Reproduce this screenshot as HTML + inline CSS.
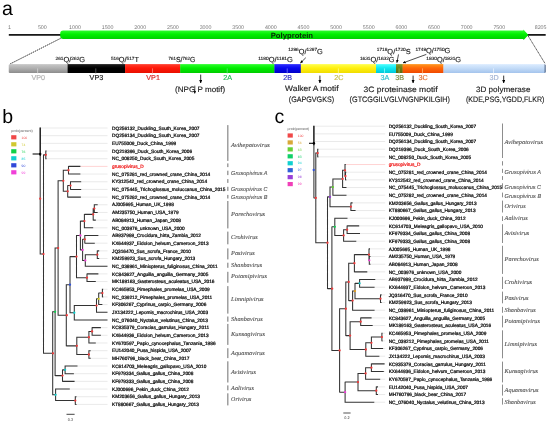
<!DOCTYPE html>
<html><head><meta charset="utf-8"><title>Figure</title>
<style>html,body{margin:0;padding:0;background:#fff}svg{display:block}</style>
</head><body>
<svg width="550" height="424" viewBox="0 0 550 424" text-rendering="geometricPrecision">
<rect width="550" height="424" fill="#fff"/>
<defs>
<linearGradient id="gG" x1="0" y1="0" x2="0" y2="1"><stop offset="0" stop-color="#3dff3d"/><stop offset="0.45" stop-color="#00f000"/><stop offset="1" stop-color="#00c800"/></linearGradient>
<linearGradient id="gVP0" x1="0" y1="0" x2="0" y2="1"><stop offset="0" stop-color="#c8c8c8"/><stop offset="0.45" stop-color="#b0b0b0"/><stop offset="1" stop-color="#8c8c8c"/></linearGradient>
<linearGradient id="gVP3" x1="0" y1="0" x2="0" y2="1"><stop offset="0" stop-color="#202020"/><stop offset="0.45" stop-color="#000000"/><stop offset="1" stop-color="#000000"/></linearGradient>
<linearGradient id="gVP1" x1="0" y1="0" x2="0" y2="1"><stop offset="0" stop-color="#ff4030"/><stop offset="0.45" stop-color="#ff1808"/><stop offset="1" stop-color="#e81000"/></linearGradient>
<linearGradient id="g2A" x1="0" y1="0" x2="0" y2="1"><stop offset="0" stop-color="#30ff30"/><stop offset="0.45" stop-color="#00ee00"/><stop offset="1" stop-color="#00cc00"/></linearGradient>
<linearGradient id="g2B" x1="0" y1="0" x2="0" y2="1"><stop offset="0" stop-color="#3030ff"/><stop offset="0.45" stop-color="#0808f0"/><stop offset="1" stop-color="#0000c8"/></linearGradient>
<linearGradient id="g2C" x1="0" y1="0" x2="0" y2="1"><stop offset="0" stop-color="#ffff50"/><stop offset="0.45" stop-color="#fff010"/><stop offset="1" stop-color="#f0dc00"/></linearGradient>
<linearGradient id="g3A" x1="0" y1="0" x2="0" y2="1"><stop offset="0" stop-color="#50ffff"/><stop offset="0.45" stop-color="#10e8f0"/><stop offset="1" stop-color="#00c8d8"/></linearGradient>
<linearGradient id="g3B" x1="0" y1="0" x2="0" y2="1"><stop offset="0" stop-color="#8a9a30"/><stop offset="0.45" stop-color="#6a8018"/><stop offset="1" stop-color="#586c10"/></linearGradient>
<linearGradient id="g3C" x1="0" y1="0" x2="0" y2="1"><stop offset="0" stop-color="#ff9820"/><stop offset="0.45" stop-color="#ff6808"/><stop offset="1" stop-color="#f04800"/></linearGradient>
<linearGradient id="g3D" x1="0" y1="0" x2="0" y2="1"><stop offset="0" stop-color="#dcecff"/><stop offset="0.45" stop-color="#c4dcf8"/><stop offset="1" stop-color="#a4c4ec"/></linearGradient>
<marker id="ah" viewBox="0 0 10 10" refX="9" refY="5" markerWidth="4.2" markerHeight="4.2" orient="auto-start-reverse"><path d="M0,0.5 L10,5 L0,9.5 z" fill="#000"/></marker>
</defs>
<text x="2.00" y="14.80" font-size="19.5" fill="#000" font-family='"Liberation Sans", sans-serif' >a</text>
<text x="2.20" y="123.20" font-size="19.5" fill="#000" font-family='"Liberation Sans", sans-serif' >b</text>
<text x="274.50" y="123.00" font-size="19.5" fill="#000" font-family='"Liberation Sans", sans-serif' >c</text>
<text x="9.60" y="28.90" font-size="5.3" fill="#777" text-anchor="middle" font-family='"Liberation Sans", sans-serif' >1</text>
<text x="42.34" y="28.90" font-size="5.3" fill="#777" text-anchor="middle" font-family='"Liberation Sans", sans-serif' >500</text>
<text x="74.98" y="28.90" font-size="5.3" fill="#777" text-anchor="middle" font-family='"Liberation Sans", sans-serif' >1000</text>
<text x="107.62" y="28.90" font-size="5.3" fill="#777" text-anchor="middle" font-family='"Liberation Sans", sans-serif' >1500</text>
<text x="140.26" y="28.90" font-size="5.3" fill="#777" text-anchor="middle" font-family='"Liberation Sans", sans-serif' >2000</text>
<text x="172.90" y="28.90" font-size="5.3" fill="#777" text-anchor="middle" font-family='"Liberation Sans", sans-serif' >2500</text>
<text x="205.54" y="28.90" font-size="5.3" fill="#777" text-anchor="middle" font-family='"Liberation Sans", sans-serif' >3000</text>
<text x="238.18" y="28.90" font-size="5.3" fill="#777" text-anchor="middle" font-family='"Liberation Sans", sans-serif' >3500</text>
<text x="270.82" y="28.90" font-size="5.3" fill="#777" text-anchor="middle" font-family='"Liberation Sans", sans-serif' >4000</text>
<text x="303.46" y="28.90" font-size="5.3" fill="#777" text-anchor="middle" font-family='"Liberation Sans", sans-serif' >4500</text>
<text x="336.10" y="28.90" font-size="5.3" fill="#777" text-anchor="middle" font-family='"Liberation Sans", sans-serif' >5000</text>
<text x="368.74" y="28.90" font-size="5.3" fill="#777" text-anchor="middle" font-family='"Liberation Sans", sans-serif' >5500</text>
<text x="401.38" y="28.90" font-size="5.3" fill="#777" text-anchor="middle" font-family='"Liberation Sans", sans-serif' >6000</text>
<text x="434.02" y="28.90" font-size="5.3" fill="#777" text-anchor="middle" font-family='"Liberation Sans", sans-serif' >6500</text>
<text x="466.66" y="28.90" font-size="5.3" fill="#777" text-anchor="middle" font-family='"Liberation Sans", sans-serif' >7000</text>
<text x="499.30" y="28.90" font-size="5.3" fill="#777" text-anchor="middle" font-family='"Liberation Sans", sans-serif' >7500</text>
<text x="540.60" y="28.90" font-size="5.3" fill="#777" text-anchor="middle" font-family='"Liberation Sans", sans-serif' >8205</text>
<rect x="8.8" y="34.1" width="53" height="1.6" fill="#000"/>
<rect x="526" y="34.1" width="19.7" height="1.6" fill="#000"/>
<path d="M63.2,30.5 H523.4 V29.4 L528.4,34.9 L523.4,40.2 V39.1 H63.2 Q60.2,39.1 60.2,36.1 V33.5 Q60.2,30.5 63.2,30.5 z" fill="url(#gG)"/>
<text x="270.70" y="37.60" font-size="7.6" fill="#062806" font-weight="bold" textLength="42.40" lengthAdjust="spacingAndGlyphs" font-family='"Liberation Sans", sans-serif' >Polyprotein</text>
<line x1="60.7" y1="38.3" x2="10.2" y2="63.9" stroke="#111" stroke-width="0.85" stroke-dasharray="1.5,0.8"/>
<line x1="528.2" y1="36" x2="544.9" y2="63.3" stroke="#111" stroke-width="0.7" stroke-dasharray="1.3,0.4"/>
<clipPath id="barclip"><rect x="8.5" y="64.1" width="537.2" height="8.9" rx="1.5" ry="1.5"/></clipPath>
<g clip-path="url(#barclip)">
<rect x="8.5" y="64.1" width="59.40" height="8.9" fill="url(#gVP0)"/>
<rect x="67.6" y="64.1" width="57.80" height="8.9" fill="url(#gVP3)"/>
<rect x="125.1" y="64.1" width="55.40" height="8.9" fill="url(#gVP1)"/>
<rect x="180.2" y="64.1" width="94.50" height="8.9" fill="url(#g2A)"/>
<rect x="274.4" y="64.1" width="26.70" height="8.9" fill="url(#g2B)"/>
<rect x="300.8" y="64.1" width="75.50" height="8.9" fill="url(#g2C)"/>
<rect x="376" y="64.1" width="20.30" height="8.9" fill="url(#g3A)"/>
<rect x="396" y="64.1" width="6.90" height="8.9" fill="url(#g3B)"/>
<rect x="402.6" y="64.1" width="41.10" height="8.9" fill="url(#g3C)"/>
<rect x="443.4" y="64.1" width="102.60" height="8.9" fill="url(#g3D)"/>
<rect x="544.7" y="64.1" width="1" height="8.9" fill="#26385a"/>
</g>
<rect x="37.40" y="68.4" width="0.7" height="5.2" fill="#dddddd"/>
<text x="38.30" y="79.90" font-size="7.2" fill="#b4b4b4" text-anchor="middle" font-family='"Liberation Sans", sans-serif' stroke="#b4b4b4" stroke-width="0.18">VP0</text>
<rect x="95.50" y="68.4" width="0.7" height="5.2" fill="#777"/>
<text x="96.40" y="79.90" font-size="7.2" fill="#222" text-anchor="middle" font-family='"Liberation Sans", sans-serif' stroke="#222" stroke-width="0.18">VP3</text>
<rect x="152.20" y="68.4" width="0.7" height="5.2" fill="#ff9a90"/>
<text x="153.10" y="79.90" font-size="7.2" fill="#dc2a2a" text-anchor="middle" font-family='"Liberation Sans", sans-serif' stroke="#dc2a2a" stroke-width="0.18">VP1</text>
<rect x="226.80" y="68.4" width="0.7" height="5.2" fill="#60e890"/>
<text x="227.70" y="79.90" font-size="7.2" fill="#22bb55" text-anchor="middle" font-family='"Liberation Sans", sans-serif' stroke="#22bb55" stroke-width="0.18">2A</text>
<rect x="286.80" y="68.4" width="0.7" height="5.2" fill="#8a8aff"/>
<text x="287.70" y="79.90" font-size="7.2" fill="#3434c4" text-anchor="middle" font-family='"Liberation Sans", sans-serif' stroke="#3434c4" stroke-width="0.18">2B</text>
<rect x="337.90" y="68.4" width="0.7" height="5.2" fill="#ffffa0"/>
<text x="338.80" y="79.90" font-size="7.2" fill="#c4bc40" text-anchor="middle" font-family='"Liberation Sans", sans-serif' stroke="#c4bc40" stroke-width="0.18">2C</text>
<rect x="384.10" y="68.4" width="0.7" height="5.2" fill="#a0ffff"/>
<text x="385.00" y="79.90" font-size="7.2" fill="#30c0d0" text-anchor="middle" font-family='"Liberation Sans", sans-serif' stroke="#30c0d0" stroke-width="0.18">3A</text>
<rect x="398.70" y="68.4" width="0.7" height="5.2" fill="#b0c060"/>
<text x="399.60" y="79.90" font-size="7.2" fill="#808a40" text-anchor="middle" font-family='"Liberation Sans", sans-serif' stroke="#808a40" stroke-width="0.18">3B</text>
<rect x="422.20" y="68.4" width="0.7" height="5.2" fill="#ffc080"/>
<text x="423.10" y="79.90" font-size="7.2" fill="#e07030" text-anchor="middle" font-family='"Liberation Sans", sans-serif' stroke="#e07030" stroke-width="0.18">3C</text>
<rect x="493.30" y="68.4" width="0.7" height="5.2" fill="#f0f6ff"/>
<text x="494.20" y="79.90" font-size="7.2" fill="#a4b4d4" text-anchor="middle" font-family='"Liberation Sans", sans-serif' stroke="#a4b4d4" stroke-width="0.18">3D</text>
<text x="55.50" y="62.20" fill="#111" stroke="#111" stroke-width="0.12" textLength="29.60" lengthAdjust="spacingAndGlyphs" font-family='"Liberation Sans", sans-serif'><tspan font-size="4.7" dy="-2.6">261</tspan><tspan font-size="7.3" dy="2.6">Q/</tspan><tspan font-size="4.7" dy="-2.6">262</tspan><tspan font-size="7.3" dy="2.6">G</tspan></text>
<text x="110.90" y="62.20" fill="#111" stroke="#111" stroke-width="0.12" textLength="28.10" lengthAdjust="spacingAndGlyphs" font-family='"Liberation Sans", sans-serif'><tspan font-size="4.7" dy="-2.6">516</tspan><tspan font-size="7.3" dy="2.6">Q/</tspan><tspan font-size="4.7" dy="-2.6">517</tspan><tspan font-size="7.3" dy="2.6">T</tspan></text>
<text x="168.50" y="62.20" fill="#111" stroke="#111" stroke-width="0.12" textLength="26.80" lengthAdjust="spacingAndGlyphs" font-family='"Liberation Sans", sans-serif'><tspan font-size="4.7" dy="-2.6">761</tspan><tspan font-size="7.3" dy="2.6">S/</tspan><tspan font-size="4.7" dy="-2.6">762</tspan><tspan font-size="7.3" dy="2.6">G</tspan></text>
<text x="258.30" y="62.20" fill="#111" stroke="#111" stroke-width="0.12" textLength="34.60" lengthAdjust="spacingAndGlyphs" font-family='"Liberation Sans", sans-serif'><tspan font-size="4.7" dy="-2.6">1180</tspan><tspan font-size="7.3" dy="2.6">Q/</tspan><tspan font-size="4.7" dy="-2.6">1181</tspan><tspan font-size="7.3" dy="2.6">G</tspan></text>
<text x="288.20" y="53.60" fill="#111" stroke="#111" stroke-width="0.12" textLength="34.70" lengthAdjust="spacingAndGlyphs" font-family='"Liberation Sans", sans-serif'><tspan font-size="4.7" dy="-2.6">1296</tspan><tspan font-size="7.3" dy="2.6">Q/</tspan><tspan font-size="4.7" dy="-2.6">1297</tspan><tspan font-size="7.3" dy="2.6">G</tspan></text>
<text x="359.90" y="62.20" fill="#111" stroke="#111" stroke-width="0.12" textLength="34.70" lengthAdjust="spacingAndGlyphs" font-family='"Liberation Sans", sans-serif'><tspan font-size="4.7" dy="-2.6">1631</tspan><tspan font-size="7.3" dy="2.6">Q/</tspan><tspan font-size="4.7" dy="-2.6">1632</tspan><tspan font-size="7.3" dy="2.6">G</tspan></text>
<text x="376.80" y="53.60" fill="#111" stroke="#111" stroke-width="0.12" textLength="33.90" lengthAdjust="spacingAndGlyphs" font-family='"Liberation Sans", sans-serif'><tspan font-size="4.7" dy="-2.6">1719</tspan><tspan font-size="7.3" dy="2.6">Q/</tspan><tspan font-size="4.7" dy="-2.6">1720</tspan><tspan font-size="7.3" dy="2.6">S</tspan></text>
<text x="415.40" y="53.20" fill="#111" stroke="#111" stroke-width="0.12" textLength="35.00" lengthAdjust="spacingAndGlyphs" font-family='"Liberation Sans", sans-serif'><tspan font-size="4.7" dy="-2.6">1749</tspan><tspan font-size="7.3" dy="2.6">Q/</tspan><tspan font-size="4.7" dy="-2.6">1750</tspan><tspan font-size="7.3" dy="2.6">G</tspan></text>
<text x="426.30" y="62.20" fill="#111" stroke="#111" stroke-width="0.12" textLength="34.80" lengthAdjust="spacingAndGlyphs" font-family='"Liberation Sans", sans-serif'><tspan font-size="4.7" dy="-2.6">1930</tspan><tspan font-size="7.3" dy="2.6">Q/</tspan><tspan font-size="4.7" dy="-2.6">1931</tspan><tspan font-size="7.3" dy="2.6">G</tspan></text>
<line x1="305.8" y1="57.7" x2="300.4" y2="63.0" stroke="#000" stroke-width="0.7" marker-end="url(#ah)"/>
<line x1="398.5" y1="54.4" x2="396.9" y2="62.6" stroke="#000" stroke-width="0.7" marker-end="url(#ah)"/>
<line x1="426.3" y1="54.4" x2="403.1" y2="62.9" stroke="#000" stroke-width="0.7" marker-end="url(#ah)"/>
<line x1="200.7" y1="74.6" x2="200.7" y2="83.0" stroke="#000" stroke-width="0.8" marker-end="url(#ah)"/>
<line x1="319.9" y1="75.6" x2="319.9" y2="83.0" stroke="#000" stroke-width="0.8" marker-end="url(#ah)"/>
<line x1="413.1" y1="75.6" x2="413.1" y2="83.0" stroke="#000" stroke-width="0.8" marker-end="url(#ah)"/>
<line x1="503.7" y1="75.6" x2="503.7" y2="83.0" stroke="#000" stroke-width="0.8" marker-end="url(#ah)"/>
<line x1="194.8" y1="85.6" x2="194.8" y2="93.4" stroke="#000" stroke-width="0.7" marker-end="url(#ah)"/>
<text x="175.10" y="92.20" font-size="7.8" fill="#222" textLength="50.00" lengthAdjust="spacingAndGlyphs" font-family='"Liberation Sans", sans-serif' stroke="#222" stroke-width="0.14">(NPG P motif)</text>
<text x="285.10" y="91.30" font-size="7.8" fill="#222" textLength="53.40" lengthAdjust="spacingAndGlyphs" font-family='"Liberation Sans", sans-serif' stroke="#222" stroke-width="0.14">Walker A motif</text>
<text x="288.80" y="102.10" font-size="7.8" fill="#222" textLength="45.30" lengthAdjust="spacingAndGlyphs" font-family='"Liberation Sans", sans-serif' stroke="#222" stroke-width="0.14">(GAPGVGKS)</text>
<text x="363.60" y="92.00" font-size="7.8" fill="#222" textLength="74.00" lengthAdjust="spacingAndGlyphs" font-family='"Liberation Sans", sans-serif' stroke="#222" stroke-width="0.14">3C  proteinase motif</text>
<text x="349.60" y="101.90" font-size="7.8" fill="#222" textLength="100.40" lengthAdjust="spacingAndGlyphs" font-family='"Liberation Sans", sans-serif' stroke="#222" stroke-width="0.14">(GTCGGILVGLVNGNPKILGIH)</text>
<text x="476.00" y="92.00" font-size="7.8" fill="#222" textLength="54.40" lengthAdjust="spacingAndGlyphs" font-family='"Liberation Sans", sans-serif' stroke="#222" stroke-width="0.14">3D polymerase</text>
<text x="466.00" y="101.90" font-size="7.8" fill="#222" textLength="78.40" lengthAdjust="spacingAndGlyphs" font-family='"Liberation Sans", sans-serif' stroke="#222" stroke-width="0.14">(KDE,PSG,YGDD,FLKR)</text>
<g stroke-width="0.5" fill="none">
<line x1="46.6" y1="151.03" x2="107.5" y2="151.03" stroke="#d4d4d4"/>
<line x1="46.6" y1="158.71" x2="107.5" y2="158.71" stroke="#d4d4d4"/>
<line x1="80.4" y1="166.39" x2="107.5" y2="166.39" stroke="#ffa8a8"/>
<line x1="80.4" y1="174.07" x2="107.5" y2="174.07" stroke="#d4d4d4"/>
<line x1="81.2" y1="181.75" x2="107.5" y2="181.75" stroke="#d4d4d4"/>
<line x1="81.2" y1="189.42" x2="107.5" y2="189.42" stroke="#d4d4d4"/>
<line x1="80.9" y1="197.10" x2="107.5" y2="197.10" stroke="#d4d4d4"/>
<line x1="97.7" y1="204.78" x2="107.5" y2="204.78" stroke="#d4d4d4"/>
<line x1="97.7" y1="212.46" x2="107.5" y2="212.46" stroke="#d4d4d4"/>
<line x1="95.8" y1="220.14" x2="107.5" y2="220.14" stroke="#d4d4d4"/>
<line x1="93.2" y1="227.81" x2="107.5" y2="227.81" stroke="#d4d4d4"/>
<line x1="98.4" y1="235.49" x2="107.5" y2="235.49" stroke="#d4d4d4"/>
<line x1="94.8" y1="243.17" x2="107.5" y2="243.17" stroke="#d4d4d4"/>
<line x1="99.2" y1="250.85" x2="107.5" y2="250.85" stroke="#d4d4d4"/>
<line x1="99.2" y1="258.53" x2="107.5" y2="258.53" stroke="#d4d4d4"/>
<line x1="98.4" y1="273.88" x2="107.5" y2="273.88" stroke="#d4d4d4"/>
<line x1="95.8" y1="281.56" x2="107.5" y2="281.56" stroke="#d4d4d4"/>
<line x1="103.2" y1="289.24" x2="107.5" y2="289.24" stroke="#d4d4d4"/>
<line x1="103.2" y1="296.92" x2="107.5" y2="296.92" stroke="#d4d4d4"/>
<line x1="102.4" y1="304.59" x2="107.5" y2="304.59" stroke="#d4d4d4"/>
<line x1="100.9" y1="327.63" x2="107.5" y2="327.63" stroke="#d4d4d4"/>
<line x1="100.9" y1="335.31" x2="107.5" y2="335.31" stroke="#d4d4d4"/>
<line x1="95.8" y1="342.98" x2="107.5" y2="342.98" stroke="#d4d4d4"/>
<line x1="90.7" y1="350.66" x2="107.5" y2="350.66" stroke="#d4d4d4"/>
<line x1="90.7" y1="358.34" x2="107.5" y2="358.34" stroke="#d4d4d4"/>
<line x1="77.5" y1="366.02" x2="107.5" y2="366.02" stroke="#d4d4d4"/>
<line x1="73.9" y1="373.70" x2="107.5" y2="373.70" stroke="#d4d4d4"/>
<line x1="74.6" y1="381.37" x2="107.5" y2="381.37" stroke="#d4d4d4"/>
<line x1="69.8" y1="389.05" x2="107.5" y2="389.05" stroke="#d4d4d4"/>
<line x1="76.5" y1="396.73" x2="107.5" y2="396.73" stroke="#d4d4d4"/>
<line x1="76.5" y1="404.41" x2="107.5" y2="404.41" stroke="#d4d4d4"/>
<line x1="41.0" y1="128.00" x2="107.5" y2="128.00" stroke="#d4d4d4"/>
<line x1="41.0" y1="135.68" x2="107.5" y2="135.68" stroke="#d4d4d4"/>
<line x1="41.0" y1="143.36" x2="107.5" y2="143.36" stroke="#d4d4d4"/>
<line x1="318.4" y1="149.20" x2="385.2" y2="149.20" stroke="#d4d4d4"/>
<line x1="318.4" y1="156.87" x2="385.2" y2="156.87" stroke="#d4d4d4"/>
<line x1="345.8" y1="164.53" x2="385.2" y2="164.53" stroke="#ffa8a8"/>
<line x1="346.3" y1="172.20" x2="385.2" y2="172.20" stroke="#d4d4d4"/>
<line x1="346.3" y1="179.87" x2="385.2" y2="179.87" stroke="#d4d4d4"/>
<line x1="346.5" y1="187.54" x2="385.2" y2="187.54" stroke="#d4d4d4"/>
<line x1="346.5" y1="195.20" x2="385.2" y2="195.20" stroke="#d4d4d4"/>
<line x1="352.6" y1="202.87" x2="385.2" y2="202.87" stroke="#d4d4d4"/>
<line x1="355.6" y1="210.54" x2="385.2" y2="210.54" stroke="#d4d4d4"/>
<line x1="347.5" y1="218.20" x2="385.2" y2="218.20" stroke="#d4d4d4"/>
<line x1="359.2" y1="225.87" x2="385.2" y2="225.87" stroke="#d4d4d4"/>
<line x1="360.0" y1="233.54" x2="385.2" y2="233.54" stroke="#d4d4d4"/>
<line x1="356.3" y1="241.20" x2="385.2" y2="241.20" stroke="#d4d4d4"/>
<line x1="370.0" y1="248.87" x2="385.2" y2="248.87" stroke="#d4d4d4"/>
<line x1="370.5" y1="256.54" x2="385.2" y2="256.54" stroke="#d4d4d4"/>
<line x1="370.5" y1="264.21" x2="385.2" y2="264.21" stroke="#d4d4d4"/>
<line x1="367.3" y1="271.87" x2="385.2" y2="271.87" stroke="#d4d4d4"/>
<line x1="375.3" y1="279.54" x2="385.2" y2="279.54" stroke="#d4d4d4"/>
<line x1="374.6" y1="287.21" x2="385.2" y2="287.21" stroke="#d4d4d4"/>
<line x1="381.6" y1="294.87" x2="385.2" y2="294.87" stroke="#d4d4d4"/>
<line x1="381.6" y1="302.54" x2="385.2" y2="302.54" stroke="#d4d4d4"/>
<line x1="374.6" y1="310.21" x2="385.2" y2="310.21" stroke="#d4d4d4"/>
<line x1="371.6" y1="317.88" x2="385.2" y2="317.88" stroke="#d4d4d4"/>
<line x1="372.7" y1="325.54" x2="385.2" y2="325.54" stroke="#d4d4d4"/>
<line x1="382.6" y1="333.21" x2="385.2" y2="333.21" stroke="#d4d4d4"/>
<line x1="382.6" y1="340.88" x2="385.2" y2="340.88" stroke="#d4d4d4"/>
<line x1="383.1" y1="348.54" x2="385.2" y2="348.54" stroke="#d4d4d4"/>
<line x1="379.4" y1="356.21" x2="385.2" y2="356.21" stroke="#d4d4d4"/>
<line x1="384.6" y1="363.88" x2="385.2" y2="363.88" stroke="#d4d4d4"/>
<line x1="383.8" y1="371.54" x2="385.2" y2="371.54" stroke="#d4d4d4"/>
<line x1="380.2" y1="379.21" x2="385.2" y2="379.21" stroke="#d4d4d4"/>
<line x1="378.0" y1="386.88" x2="385.2" y2="386.88" stroke="#d4d4d4"/>
<line x1="378.0" y1="394.54" x2="385.2" y2="394.54" stroke="#d4d4d4"/>
<line x1="374.3" y1="402.21" x2="385.2" y2="402.21" stroke="#d4d4d4"/>
<line x1="314.7" y1="126.20" x2="385.2" y2="126.20" stroke="#d4d4d4"/>
<line x1="314.7" y1="133.87" x2="385.2" y2="133.87" stroke="#d4d4d4"/>
<line x1="314.7" y1="141.53" x2="385.2" y2="141.53" stroke="#d4d4d4"/>
</g>
<path d="M45.8,150.58V159.16M68.5,165.94V174.52M70.5,181.30V189.87M67.7,185.14V197.55M63.3,169.78V191.79M94.3,204.33V212.91M93.2,208.17V220.59M84.4,213.93V228.26M84.8,235.04V243.62M97.3,250.40V258.98M85.3,254.24V266.65M82.6,238.88V260.90M80.4,220.65V250.34M87.0,273.43V282.01M76.5,235.04V278.17M102.4,288.79V297.37M98.7,292.63V305.04M96.5,298.39V312.72M74.3,305.10V320.40M70.0,256.16V313.20M92.1,327.18V335.76M88.9,331.02V343.43M88.9,350.21V358.79M76.8,336.78V354.95M66.3,284.23V346.31M58.1,180.34V315.72M65.1,365.57V374.15M62.5,369.41V381.82M55.1,247.58V376.07M75.3,396.28V404.86M55.6,388.60V401.02M52.7,311.37V395.26M43.5,154.42V353.77M40.2,127.55V254.54M317.7,148.75V157.32M345.5,171.75V180.32M345.0,164.09V176.49M342.6,169.84V187.99M332.9,178.46V195.65M350.9,202.42V210.99M330.0,186.61V207.15M347.1,225.42V233.99M343.6,229.25V241.65M334.8,217.75V235.90M369.3,256.09V264.66M369.0,248.42V260.82M354.4,254.17V272.32M359.6,279.09V287.66M380.5,294.42V302.99M355.0,282.92V299.16M352.6,290.59V310.66M348.7,262.80V301.07M360.7,317.43V325.99M381.9,332.76V341.33M371.4,336.59V348.99M365.8,342.34V356.66M350.1,321.26V349.95M345.8,281.49V336.05M371.4,363.43V371.99M365.6,367.26V379.66M376.3,386.43V394.99M358.0,373.01V391.16M345.1,381.64V402.66M339.6,308.32V392.60M331.9,226.38V350.91M327.5,196.43V289.09M315.8,152.58V243.21M313.9,125.75V198.35M45.8,151.03H46.6M45.8,158.71H46.6M43.5,154.87H45.8M68.5,166.39H80.4M68.5,174.07H80.4M63.3,170.23H68.5M70.5,181.75H81.2M70.5,189.42H81.2M67.7,185.59H70.5M67.7,197.10H80.9M63.3,191.34H67.7M58.1,180.79H63.3M94.3,204.78H97.7M94.3,212.46H97.7M93.2,208.62H94.3M93.2,220.14H95.8M84.4,214.38H93.2M84.4,227.81H93.2M80.4,221.10H84.4M84.8,235.49H98.4M84.8,243.17H94.8M82.6,239.33H84.8M97.3,250.85H99.2M97.3,258.53H99.2M85.3,254.69H97.3M85.3,266.20H107.5M82.6,260.45H85.3M80.4,249.89H82.6M76.5,235.49H80.4M87.0,273.88H98.4M87.0,281.56H95.8M76.5,277.72H87.0M70.0,256.61H76.5M102.4,289.24H103.2M102.4,296.92H103.2M98.7,293.08H102.4M98.7,304.59H102.4M96.5,298.84H98.7M96.5,312.27H107.5M74.3,305.55H96.5M74.3,319.95H107.5M70.0,312.75H74.3M66.3,284.68H70.0M92.1,327.63H100.9M92.1,335.31H100.9M88.9,331.47H92.1M88.9,342.98H95.8M76.8,337.23H88.9M88.9,350.66H90.7M88.9,358.34H90.7M76.8,354.50H88.9M66.3,345.86H76.8M58.1,315.27H66.3M55.1,248.03H58.1M65.1,366.02H77.5M65.1,373.70H73.9M62.5,369.86H65.1M62.5,381.37H74.6M55.1,375.62H62.5M52.7,311.82H55.1M55.6,389.05H69.8M75.3,396.73H76.5M75.3,404.41H76.5M55.6,400.57H75.3M52.7,394.81H55.6M43.5,353.32H52.7M40.2,254.09H43.5M317.7,149.20H318.4M317.7,156.87H318.4M315.8,153.03H317.7M345.0,164.53H345.8M345.5,172.20H346.3M345.5,179.87H346.3M345.0,176.04H345.5M342.6,170.29H345.0M342.6,187.54H346.5M332.9,178.91H342.6M332.9,195.20H346.5M330.0,187.06H332.9M350.9,202.87H352.6M350.9,210.54H355.6M330.0,206.70H350.9M327.5,196.88H330.0M334.8,218.20H347.5M347.1,225.87H359.2M347.1,233.54H360.0M343.6,229.70H347.1M343.6,241.20H356.3M334.8,235.45H343.6M331.9,226.83H334.8M369.0,248.87H370.0M369.3,256.54H370.5M369.3,264.21H370.5M369.0,260.37H369.3M354.4,254.62H369.0M354.4,271.87H367.3M348.7,263.25H354.4M359.6,279.54H375.3M359.6,287.21H374.6M355.0,283.37H359.6M380.5,294.87H381.6M380.5,302.54H381.6M355.0,298.71H380.5M352.6,291.04H355.0M352.6,310.21H374.6M348.7,300.62H352.6M345.8,281.94H348.7M360.7,317.88H371.6M360.7,325.54H372.7M350.1,321.71H360.7M381.9,333.21H382.6M381.9,340.88H382.6M371.4,337.04H381.9M371.4,348.54H383.1M365.8,342.79H371.4M365.8,356.21H379.4M350.1,349.50H365.8M345.8,335.60H350.1M339.6,308.77H345.8M371.4,363.88H384.6M371.4,371.54H383.8M365.6,367.71H371.4M365.6,379.21H380.2M358.0,373.46H365.6M376.3,386.88H378.0M376.3,394.54H378.0M358.0,390.71H376.3M345.1,382.09H358.0M345.1,402.21H374.3M339.6,392.15H345.1M331.9,350.46H339.6M327.5,288.64H331.9M315.8,242.76H327.5M313.9,197.90H315.8" stroke="#333" stroke-width="1.05" fill="none"/>
<line x1="32.6" y1="154.0" x2="40.2" y2="154.0" stroke="#111" stroke-width="1.1"/>
<line x1="40.2" y1="127.6" x2="40.2" y2="156.0" stroke="#000" stroke-width="0.9"/>
<circle cx="40.2" cy="154.0" r="1.2" fill="#000"/>
<line x1="309.0" y1="143.3" x2="313.9" y2="143.3" stroke="#111" stroke-width="1.1"/>
<line x1="313.9" y1="125.8" x2="313.9" y2="145.3" stroke="#000" stroke-width="0.9"/>
<circle cx="313.9" cy="143.3" r="1.2" fill="#000"/>
<circle cx="45.8" cy="154.87" r="1.15" fill="#f03c3c"/>
<circle cx="68.5" cy="170.23" r="1.15" fill="#f03c3c"/>
<circle cx="70.5" cy="185.59" r="1.15" fill="#f03c3c"/>
<circle cx="67.7" cy="191.34" r="1.15" fill="#f03c3c"/>
<circle cx="63.3" cy="180.79" r="1.15" fill="#f03c3c"/>
<circle cx="94.3" cy="208.62" r="1.15" fill="#f03c3c"/>
<circle cx="93.2" cy="214.38" r="1.15" fill="#f03c3c"/>
<circle cx="84.4" cy="221.10" r="1.15" fill="#f03c3c"/>
<circle cx="84.8" cy="239.33" r="1.15" fill="#f03c3c"/>
<circle cx="97.3" cy="254.69" r="1.15" fill="#f03c3c"/>
<circle cx="85.3" cy="260.45" r="1.15" fill="#f040d8"/>
<circle cx="82.6" cy="249.89" r="1.15" fill="#f040d8"/>
<circle cx="80.4" cy="235.49" r="1.15" fill="#f040d8"/>
<circle cx="87.0" cy="277.72" r="1.15" fill="#f03c3c"/>
<circle cx="76.5" cy="256.61" r="1.15" fill="#f03c3c"/>
<circle cx="102.4" cy="293.08" r="1.15" fill="#f03c3c"/>
<circle cx="98.7" cy="298.84" r="1.15" fill="#d8d020"/>
<circle cx="96.5" cy="305.55" r="1.15" fill="#f03c3c"/>
<circle cx="74.3" cy="312.75" r="1.15" fill="#10d0d0"/>
<circle cx="70.0" cy="284.68" r="1.15" fill="#3050d8"/>
<circle cx="92.1" cy="331.47" r="1.15" fill="#f03c3c"/>
<circle cx="88.9" cy="337.23" r="1.15" fill="#f03c3c"/>
<circle cx="88.9" cy="354.50" r="1.15" fill="#f03c3c"/>
<circle cx="76.8" cy="345.86" r="1.15" fill="#f03c3c"/>
<circle cx="66.8" cy="315.27" r="1.15" fill="#f03c3c"/>
<circle cx="58.1" cy="248.03" r="1.15" fill="#f03c3c"/>
<circle cx="65.1" cy="369.86" r="1.15" fill="#10d0d0"/>
<circle cx="62.5" cy="375.62" r="1.15" fill="#f03c3c"/>
<circle cx="55.1" cy="311.82" r="1.15" fill="#10d050"/>
<circle cx="75.3" cy="400.57" r="1.15" fill="#f03c3c"/>
<circle cx="55.6" cy="394.81" r="1.15" fill="#10d0d0"/>
<circle cx="53.0" cy="353.32" r="1.15" fill="#f03c3c"/>
<circle cx="43.5" cy="254.09" r="1.15" fill="#f03c3c"/>
<circle cx="40.2" cy="198.70" r="1.15" fill="#f03c3c"/>
<circle cx="317.7" cy="153.03" r="1.15" fill="#f03c3c"/>
<circle cx="345.5" cy="176.04" r="1.15" fill="#f03c3c"/>
<circle cx="345.0" cy="170.29" r="1.15" fill="#f03c3c"/>
<circle cx="342.6" cy="178.91" r="1.15" fill="#f03c3c"/>
<circle cx="332.9" cy="187.06" r="1.15" fill="#60d030"/>
<circle cx="350.9" cy="206.70" r="1.15" fill="#f03c3c"/>
<circle cx="330.0" cy="196.88" r="1.15" fill="#9a40d8"/>
<circle cx="347.1" cy="229.70" r="1.15" fill="#f03c3c"/>
<circle cx="343.6" cy="235.45" r="1.15" fill="#f03c3c"/>
<circle cx="334.8" cy="226.83" r="1.15" fill="#10d050"/>
<circle cx="369.3" cy="260.37" r="1.15" fill="#f040d8"/>
<circle cx="369.0" cy="254.62" r="1.15" fill="#f03c3c"/>
<circle cx="354.4" cy="263.25" r="1.15" fill="#f03c3c"/>
<circle cx="359.6" cy="283.37" r="1.15" fill="#10d0d0"/>
<circle cx="380.5" cy="298.71" r="1.15" fill="#f03c3c"/>
<circle cx="355.0" cy="291.04" r="1.15" fill="#e8a020"/>
<circle cx="352.6" cy="300.62" r="1.15" fill="#f03c3c"/>
<circle cx="348.7" cy="281.94" r="1.15" fill="#f03c3c"/>
<circle cx="360.7" cy="321.71" r="1.15" fill="#f03c3c"/>
<circle cx="381.9" cy="337.04" r="1.15" fill="#f03c3c"/>
<circle cx="371.4" cy="342.79" r="1.15" fill="#f03c3c"/>
<circle cx="365.8" cy="349.50" r="1.15" fill="#f03c3c"/>
<circle cx="350.1" cy="335.60" r="1.15" fill="#f03c3c"/>
<circle cx="345.8" cy="308.77" r="1.15" fill="#f03c3c"/>
<circle cx="371.4" cy="367.71" r="1.15" fill="#f03c3c"/>
<circle cx="365.6" cy="373.46" r="1.15" fill="#f03c3c"/>
<circle cx="376.3" cy="390.71" r="1.15" fill="#f03c3c"/>
<circle cx="358.0" cy="382.09" r="1.15" fill="#f03c3c"/>
<circle cx="345.1" cy="392.15" r="1.15" fill="#f040d8"/>
<circle cx="339.6" cy="350.46" r="1.15" fill="#f03c3c"/>
<circle cx="332.2" cy="288.64" r="1.15" fill="#f03c3c"/>
<circle cx="327.5" cy="242.76" r="1.15" fill="#f03c3c"/>
<circle cx="315.8" cy="197.90" r="1.15" fill="#f03c3c"/>
<circle cx="313.7" cy="170.00" r="1.15" fill="#3050d8"/>
<g font-size="4.76" font-family='"Liberation Sans", sans-serif' fill="#0c0c0c" stroke="#0c0c0c" stroke-width="0.24">
<text x="112" y="129.70">DQ256132_Duckling_South_Korea_2007</text>
<text x="112" y="137.38">DQ256134_Duckling_South_Korea_2007</text>
<text x="112" y="145.06">EU755009_Duck_China_1999</text>
<text x="112" y="152.73">DQ219396_Duck_South_Korea_2006</text>
<text x="112" y="160.41">NC_008250_Duck_South_Korea_2005</text>
<text x="112" y="168.09" fill="#f02020" stroke="#f02020">grusopivirus_D</text>
<text x="112" y="175.77">NC_075281_red_crowned_crane_China_2014</text>
<text x="112" y="183.45">KY312542_red_crowned_crane_China_2014</text>
<text x="112" y="191.12">NC_075445_Trichoglossus_moluccanus_China_2015</text>
<text x="112" y="198.80">NC_075282_red_crowned_crane_China_2014</text>
<text x="112" y="206.48">AJ005695_Human_UK_1998</text>
<text x="112" y="214.16">AM235750_Human_USA_1979</text>
<text x="112" y="221.84">AB084913_Human_Japan_2008</text>
<text x="112" y="229.51">NC_003976_unknown_USA_2000</text>
<text x="112" y="237.19">AB937989_Crocidura_hirta_Zambia_2012</text>
<text x="112" y="244.87">KX644937_Eidolon_helvum_Cameroon_2013</text>
<text x="112" y="252.55">JQ316470_Sus_scrofa_France_2010</text>
<text x="112" y="260.23">KM259923_Sus_scrofa_Hungary_2013</text>
<text x="112" y="267.90">NC_038961_Miniopterus_fuliginosus_China_2011</text>
<text x="112" y="275.58">KC843627_Anguilla_anguilla_Germany_2005</text>
<text x="112" y="283.26">MK189163_Gasterosteus_aculeatus_USA_2016</text>
<text x="112" y="290.94">KC465953_Pimephales_promelas_USA_2009</text>
<text x="112" y="298.62">NC_039212_Pimephales_promelas_USA_2011</text>
<text x="112" y="306.29">KF306267_Cyprinus_carpio_Germany_2006</text>
<text x="112" y="313.97">JX134222_Lepomis_macrochirus_USA_2003</text>
<text x="112" y="321.65">NC_076040_Nyctalus_velutinus_China_2013</text>
<text x="112" y="329.33">KC935379_Coracias_garrulus_Hungary_2011</text>
<text x="112" y="337.01">KX644936_Eidolon_helvum_Cameroon_2013</text>
<text x="112" y="344.68">KY670597_Papio_cynocephalus_Tanzania_1986</text>
<text x="112" y="352.36">EU142040_Pusa_hispida_USA_2007</text>
<text x="112" y="360.04">MH760796_black_bear_China_2017</text>
<text x="112" y="367.72">KC614703_Meleagris_gallopavo_USA_2010</text>
<text x="112" y="375.40">KF979334_Gallus_gallus_China_2008</text>
<text x="112" y="383.07">KF979333_Gallus_gallus_China_2008</text>
<text x="112" y="390.75">KJ000696_Pekin_duck_China_2012</text>
<text x="112" y="398.43">KM203656_Gallus_gallus_Hungary_2013</text>
<text x="112" y="406.11">KT880667_Gallus_gallus_Hungary_2013</text>
<text x="388.7" y="127.90">DQ256132_Duckling_South_Korea_2007</text>
<text x="388.7" y="135.57">EU755009_Duck_China_1999</text>
<text x="388.7" y="143.23">DQ256134_Duckling_South_Korea_2007</text>
<text x="388.7" y="150.90">DQ219396_Duck_South_Korea_2006</text>
<text x="388.7" y="158.57">NC_008250_Duck_South_Korea_2005</text>
<text x="388.7" y="166.23" fill="#f02020" stroke="#f02020">grusopivirus_D</text>
<text x="388.7" y="173.90">NC_075281_red_crowned_crane_China_2014</text>
<text x="388.7" y="181.57">KY312542_red_crowned_crane_China_2014</text>
<text x="388.7" y="189.24">NC_075445_Trichoglossus_moluccanus_China_2015</text>
<text x="388.7" y="196.90">NC_075282_red_crowned_crane_China_2014</text>
<text x="388.7" y="204.57">KM203656_Gallus_gallus_Hungary_2013</text>
<text x="388.7" y="212.24">KT880667_Gallus_gallus_Hungary_2013</text>
<text x="388.7" y="219.90">KJ000696_Pekin_duck_China_2012</text>
<text x="388.7" y="227.57">KC614703_Meleagris_gallopavo_USA_2010</text>
<text x="388.7" y="235.24">KF979334_Gallus_gallus_China_2008</text>
<text x="388.7" y="242.90">KF979333_Gallus_gallus_China_2008</text>
<text x="388.7" y="250.57">AJ005695_Human_UK_1998</text>
<text x="388.7" y="258.24">AM235750_Human_USA_1979</text>
<text x="388.7" y="265.91">AB084913_Human_Japan_2008</text>
<text x="388.7" y="273.57">NC_003976_unknown_USA_2000</text>
<text x="388.7" y="281.24">AB937989_Crocidura_hirta_Zambia_2012</text>
<text x="388.7" y="288.91">KX644937_Eidolon_helvum_Cameroon_2013</text>
<text x="388.7" y="296.57">JQ316470_Sus_scrofa_France_2010</text>
<text x="388.7" y="304.24">KM259923_Sus_scrofa_Hungary_2013</text>
<text x="388.7" y="311.91">NC_038961_Miniopterus_fuliginosus_China_2011</text>
<text x="388.7" y="319.57">KC843627_Anguilla_anguilla_Germany_2005</text>
<text x="388.7" y="327.24">MK189163_Gasterosteus_aculeatus_USA_2016</text>
<text x="388.7" y="334.91">KC465953_Pimephales_promelas_USA_2009</text>
<text x="388.7" y="342.58">NC_039212_Pimephales_promelas_USA_2011</text>
<text x="388.7" y="350.24">KF306267_Cyprinus_carpio_Germany_2006</text>
<text x="388.7" y="357.91">JX134222_Lepomis_macrochirus_USA_2003</text>
<text x="388.7" y="365.58">KC935379_Coracias_garrulus_Hungary_2011</text>
<text x="388.7" y="373.24">KX644936_Eidolon_helvum_Cameroon_2013</text>
<text x="388.7" y="380.91">KY670597_Papio_cynocephalus_Tanzania_1986</text>
<text x="388.7" y="388.58">EU142040_Pusa_hispida_USA_2007</text>
<text x="388.7" y="396.24">MH760796_black_bear_China_2017</text>
<text x="388.7" y="403.91">NC_076040_Nyctalus_velutinus_China_2013</text>
</g>
<rect x="227.18" y="125.1" width="1.25" height="35.8" fill="#8c8c8c"/>
<text x="231.10" y="147.30" font-size="6.1" fill="#505050" font-style="italic" textLength="38.80" lengthAdjust="spacingAndGlyphs" font-family='"Liberation Serif", serif' stroke="#505050" stroke-width="0.12">Avihepatovirus</text>
<rect x="227.18" y="163.4" width="1.25" height="3.7" fill="#8c8c8c"/>
<rect x="227.18" y="170.7" width="1.25" height="4.4" fill="#8c8c8c"/>
<text x="231.10" y="174.95" font-size="5.7" fill="#5c5c5c" font-style="italic" textLength="36.40" lengthAdjust="spacingAndGlyphs" font-family='"Liberation Sans", sans-serif' stroke="#5c5c5c" stroke-width="0.12">Grusopivirus A</text>
<rect x="227.18" y="179.1" width="1.25" height="3.8" fill="#8c8c8c"/>
<rect x="227.18" y="186.8" width="1.25" height="4.1" fill="#8c8c8c"/>
<text x="231.10" y="190.75" font-size="5.7" fill="#5c5c5c" font-style="italic" textLength="36.40" lengthAdjust="spacingAndGlyphs" font-family='"Liberation Sans", sans-serif' stroke="#5c5c5c" stroke-width="0.12">Grusopivirus C</text>
<rect x="227.18" y="194.9" width="1.25" height="3.6" fill="#8c8c8c"/>
<text x="231.10" y="199.05" font-size="5.7" fill="#5c5c5c" font-style="italic" textLength="36.40" lengthAdjust="spacingAndGlyphs" font-family='"Liberation Sans", sans-serif' stroke="#5c5c5c" stroke-width="0.12">Grusopivirus B</text>
<rect x="227.18" y="201.0" width="1.25" height="27.4" fill="#8c8c8c"/>
<text x="231.10" y="215.60" font-size="6.1" fill="#505050" font-style="italic" textLength="34.00" lengthAdjust="spacingAndGlyphs" font-family='"Liberation Serif", serif' stroke="#505050" stroke-width="0.12">Parechovirus</text>
<rect x="227.18" y="231.6" width="1.25" height="12.7" fill="#8c8c8c"/>
<text x="231.10" y="238.70" font-size="6.1" fill="#505050" font-style="italic" textLength="26.60" lengthAdjust="spacingAndGlyphs" font-family='"Liberation Serif", serif' stroke="#505050" stroke-width="0.12">Crohivirus</text>
<rect x="227.18" y="248.4" width="1.25" height="11.0" fill="#8c8c8c"/>
<text x="231.10" y="255.20" font-size="6.1" fill="#505050" font-style="italic" textLength="23.70" lengthAdjust="spacingAndGlyphs" font-family='"Liberation Serif", serif' stroke="#505050" stroke-width="0.12">Pasivirus</text>
<rect x="227.18" y="262.7" width="1.25" height="5.1" fill="#8c8c8c"/>
<text x="231.10" y="266.90" font-size="6.1" fill="#505050" font-style="italic" textLength="31.00" lengthAdjust="spacingAndGlyphs" font-family='"Liberation Serif", serif' stroke="#505050" stroke-width="0.12">Shanbavirus</text>
<rect x="227.18" y="271.8" width="1.25" height="10.9" fill="#8c8c8c"/>
<text x="231.10" y="277.60" font-size="6.1" fill="#505050" font-style="italic" textLength="35.90" lengthAdjust="spacingAndGlyphs" font-family='"Liberation Serif", serif' stroke="#505050" stroke-width="0.12">Potamipivirus</text>
<rect x="227.18" y="286.1" width="1.25" height="27.5" fill="#8c8c8c"/>
<text x="231.10" y="300.70" font-size="6.1" fill="#505050" font-style="italic" textLength="32.50" lengthAdjust="spacingAndGlyphs" font-family='"Liberation Serif", serif' stroke="#505050" stroke-width="0.12">Limnipivirus</text>
<rect x="227.18" y="316.5" width="1.25" height="5.2" fill="#8c8c8c"/>
<text x="231.10" y="320.90" font-size="6.1" fill="#505050" font-style="italic" textLength="31.50" lengthAdjust="spacingAndGlyphs" font-family='"Liberation Serif", serif' stroke="#505050" stroke-width="0.12">Shanbavirus</text>
<rect x="227.18" y="323.9" width="1.25" height="21.0" fill="#8c8c8c"/>
<text x="231.10" y="335.80" font-size="6.1" fill="#505050" font-style="italic" textLength="33.90" lengthAdjust="spacingAndGlyphs" font-family='"Liberation Serif", serif' stroke="#505050" stroke-width="0.12">Kunsagivirus</text>
<rect x="227.18" y="348.2" width="1.25" height="9.9" fill="#8c8c8c"/>
<text x="231.10" y="355.00" font-size="6.1" fill="#505050" font-style="italic" textLength="33.70" lengthAdjust="spacingAndGlyphs" font-family='"Liberation Serif", serif' stroke="#505050" stroke-width="0.12">Aquamavirus</text>
<rect x="227.18" y="361.3" width="1.25" height="21.2" fill="#8c8c8c"/>
<text x="231.10" y="374.40" font-size="6.1" fill="#505050" font-style="italic" textLength="24.90" lengthAdjust="spacingAndGlyphs" font-family='"Liberation Serif", serif' stroke="#505050" stroke-width="0.12">Avisivirus</text>
<rect x="227.18" y="385.4" width="1.25" height="4.9" fill="#8c8c8c"/>
<text x="231.10" y="389.60" font-size="6.1" fill="#505050" font-style="italic" textLength="22.70" lengthAdjust="spacingAndGlyphs" font-family='"Liberation Serif", serif' stroke="#505050" stroke-width="0.12">Aalivirus</text>
<rect x="227.18" y="393.3" width="1.25" height="12.1" fill="#8c8c8c"/>
<text x="231.10" y="400.50" font-size="6.1" fill="#505050" font-style="italic" textLength="20.10" lengthAdjust="spacingAndGlyphs" font-family='"Liberation Serif", serif' stroke="#505050" stroke-width="0.12">Orivirus</text>
<rect x="502.10" y="123.5" width="0.8" height="34.5" fill="#707070"/>
<text x="504.60" y="143.90" font-size="6.1" fill="#505050" font-style="italic" textLength="38.40" lengthAdjust="spacingAndGlyphs" font-family='"Liberation Serif", serif' stroke="#505050" stroke-width="0.12">Avihepatovirus</text>
<rect x="502.10" y="161.2" width="0.8" height="4.3" fill="#707070"/>
<rect x="502.10" y="168.8" width="0.8" height="4.1" fill="#707070"/>
<text x="504.60" y="173.65" font-size="5.7" fill="#5c5c5c" font-style="italic" textLength="36.50" lengthAdjust="spacingAndGlyphs" font-family='"Liberation Sans", sans-serif' stroke="#5c5c5c" stroke-width="0.12">Grusopivirus A</text>
<rect x="502.10" y="176.1" width="0.8" height="3.8" fill="#707070"/>
<rect x="502.10" y="183.3" width="0.8" height="5.5" fill="#707070"/>
<text x="504.60" y="188.95" font-size="5.7" fill="#5c5c5c" font-style="italic" textLength="36.50" lengthAdjust="spacingAndGlyphs" font-family='"Liberation Sans", sans-serif' stroke="#5c5c5c" stroke-width="0.12">Grusopivirus C</text>
<rect x="502.10" y="192.6" width="0.8" height="4.7" fill="#707070"/>
<text x="504.60" y="197.65" font-size="5.7" fill="#5c5c5c" font-style="italic" textLength="36.50" lengthAdjust="spacingAndGlyphs" font-family='"Liberation Sans", sans-serif' stroke="#5c5c5c" stroke-width="0.12">Grusopivirus B</text>
<rect x="502.10" y="200.6" width="0.8" height="11.9" fill="#707070"/>
<text x="504.60" y="208.10" font-size="6.1" fill="#505050" font-style="italic" textLength="21.00" lengthAdjust="spacingAndGlyphs" font-family='"Liberation Serif", serif' stroke="#505050" stroke-width="0.12">Orivirus</text>
<rect x="502.10" y="216.2" width="0.8" height="4.8" fill="#707070"/>
<text x="504.60" y="219.80" font-size="6.1" fill="#505050" font-style="italic" textLength="23.10" lengthAdjust="spacingAndGlyphs" font-family='"Liberation Serif", serif' stroke="#505050" stroke-width="0.12">Aalivirus</text>
<rect x="502.10" y="224.2" width="0.8" height="18.8" fill="#707070"/>
<text x="504.60" y="234.70" font-size="6.1" fill="#505050" font-style="italic" textLength="24.60" lengthAdjust="spacingAndGlyphs" font-family='"Liberation Serif", serif' stroke="#505050" stroke-width="0.12">Avisivirus</text>
<rect x="502.10" y="245.8" width="0.8" height="28.1" fill="#707070"/>
<text x="504.60" y="261.00" font-size="6.1" fill="#505050" font-style="italic" textLength="34.10" lengthAdjust="spacingAndGlyphs" font-family='"Liberation Serif", serif' stroke="#505050" stroke-width="0.12">Parechovirus</text>
<rect x="502.10" y="276.8" width="0.8" height="12.2" fill="#707070"/>
<text x="504.60" y="284.40" font-size="6.1" fill="#505050" font-style="italic" textLength="27.50" lengthAdjust="spacingAndGlyphs" font-family='"Liberation Serif", serif' stroke="#505050" stroke-width="0.12">Crohivirus</text>
<rect x="502.10" y="291.6" width="0.8" height="11.7" fill="#707070"/>
<text x="504.60" y="300.00" font-size="6.1" fill="#505050" font-style="italic" textLength="23.90" lengthAdjust="spacingAndGlyphs" font-family='"Liberation Serif", serif' stroke="#505050" stroke-width="0.12">Pasivirus</text>
<rect x="502.10" y="306.9" width="0.8" height="5.9" fill="#707070"/>
<text x="504.60" y="311.60" font-size="6.1" fill="#505050" font-style="italic" textLength="31.20" lengthAdjust="spacingAndGlyphs" font-family='"Liberation Serif", serif' stroke="#505050" stroke-width="0.12">Shanbavirus</text>
<rect x="502.10" y="315.7" width="0.8" height="11.7" fill="#707070"/>
<text x="504.60" y="323.00" font-size="6.1" fill="#505050" font-style="italic" textLength="35.30" lengthAdjust="spacingAndGlyphs" font-family='"Liberation Serif", serif' stroke="#505050" stroke-width="0.12">Potamipivirus</text>
<rect x="502.10" y="330.3" width="0.8" height="28.0" fill="#707070"/>
<text x="504.60" y="345.60" font-size="6.1" fill="#505050" font-style="italic" textLength="32.40" lengthAdjust="spacingAndGlyphs" font-family='"Liberation Serif", serif' stroke="#505050" stroke-width="0.12">Limnipivirus</text>
<rect x="502.10" y="361.6" width="0.8" height="20.8" fill="#707070"/>
<text x="504.60" y="373.10" font-size="6.1" fill="#505050" font-style="italic" textLength="33.40" lengthAdjust="spacingAndGlyphs" font-family='"Liberation Serif", serif' stroke="#505050" stroke-width="0.12">Kunsagivirus</text>
<rect x="502.10" y="384.6" width="0.8" height="11.0" fill="#707070"/>
<text x="504.60" y="391.70" font-size="6.1" fill="#505050" font-style="italic" textLength="33.80" lengthAdjust="spacingAndGlyphs" font-family='"Liberation Serif", serif' stroke="#505050" stroke-width="0.12">Aquamavirus</text>
<rect x="502.10" y="398.2" width="0.8" height="6.4" fill="#707070"/>
<text x="504.60" y="403.70" font-size="6.1" fill="#505050" font-style="italic" textLength="31.20" lengthAdjust="spacingAndGlyphs" font-family='"Liberation Serif", serif' stroke="#505050" stroke-width="0.12">Shanbavirus</text>
<text x="11.20" y="131.70" font-size="3.5" fill="#555" textLength="21.60" lengthAdjust="spacingAndGlyphs" font-family='"Liberation Sans", sans-serif' >prob(percent)</text>
<rect x="11.2" y="135.20" width="5.2" height="4.2" fill="#f04848"/>
<text x="21.60" y="138.50" font-size="3.4" fill="#f04848" font-family='"Liberation Sans", sans-serif' >100</text>
<rect x="11.2" y="142.20" width="5.2" height="4.2" fill="#d0c830"/>
<text x="21.60" y="145.50" font-size="3.4" fill="#d0c830" font-family='"Liberation Sans", sans-serif' >74</text>
<rect x="11.2" y="149.20" width="5.2" height="4.2" fill="#10d048"/>
<text x="21.60" y="152.50" font-size="3.4" fill="#10d048" font-family='"Liberation Sans", sans-serif' >76</text>
<rect x="11.2" y="156.20" width="5.2" height="4.2" fill="#10d0d0"/>
<text x="21.60" y="159.50" font-size="3.4" fill="#10d0d0" font-family='"Liberation Sans", sans-serif' >85</text>
<rect x="11.2" y="163.20" width="5.2" height="4.2" fill="#3048d8"/>
<text x="21.60" y="166.50" font-size="3.4" fill="#3048d8" font-family='"Liberation Sans", sans-serif' >90</text>
<rect x="11.2" y="170.20" width="5.2" height="4.2" fill="#f040d8"/>
<text x="21.60" y="173.50" font-size="3.4" fill="#f040d8" font-family='"Liberation Sans", sans-serif' >99</text>
<text x="287.60" y="130.00" font-size="3.5" fill="#555" textLength="21.60" lengthAdjust="spacingAndGlyphs" font-family='"Liberation Sans", sans-serif' >prob(percent)</text>
<rect x="287.6" y="133.40" width="5.2" height="4.2" fill="#f04848"/>
<text x="297.80" y="136.70" font-size="3.4" fill="#f04848" font-family='"Liberation Sans", sans-serif' >100</text>
<rect x="287.6" y="140.34" width="5.2" height="4.2" fill="#d8a838"/>
<text x="297.80" y="143.64" font-size="3.4" fill="#d8a838" font-family='"Liberation Sans", sans-serif' >56</text>
<rect x="287.6" y="147.28" width="5.2" height="4.2" fill="#68d038"/>
<text x="297.80" y="150.58" font-size="3.4" fill="#68d038" font-family='"Liberation Sans", sans-serif' >63</text>
<rect x="287.6" y="154.22" width="5.2" height="4.2" fill="#10d068"/>
<text x="297.80" y="157.52" font-size="3.4" fill="#10d068" font-family='"Liberation Sans", sans-serif' >83</text>
<rect x="287.6" y="161.16" width="5.2" height="4.2" fill="#10d0d0"/>
<text x="297.80" y="164.46" font-size="3.4" fill="#10d0d0" font-family='"Liberation Sans", sans-serif' >94</text>
<rect x="287.6" y="168.10" width="5.2" height="4.2" fill="#3060d8"/>
<text x="297.80" y="171.40" font-size="3.4" fill="#3060d8" font-family='"Liberation Sans", sans-serif' >97</text>
<rect x="287.6" y="175.04" width="5.2" height="4.2" fill="#9840d8"/>
<text x="297.80" y="178.34" font-size="3.4" fill="#9840d8" font-family='"Liberation Sans", sans-serif' >98</text>
<rect x="287.6" y="181.98" width="5.2" height="4.2" fill="#f040b8"/>
<text x="297.80" y="185.28" font-size="3.4" fill="#f040b8" font-family='"Liberation Sans", sans-serif' >99</text>
<rect x="66.5" y="413.8" width="8.1" height="1" fill="#444"/>
<text x="70.50" y="421.30" font-size="3.8" fill="#444" text-anchor="middle" font-family='"Liberation Sans", sans-serif' >0.3</text>
<rect x="343.3" y="412.5" width="7.3" height="1" fill="#555"/>
<text x="347.00" y="419.40" font-size="3.8" fill="#444" text-anchor="middle" font-family='"Liberation Sans", sans-serif' >0.2</text>
</svg>
</body></html>
